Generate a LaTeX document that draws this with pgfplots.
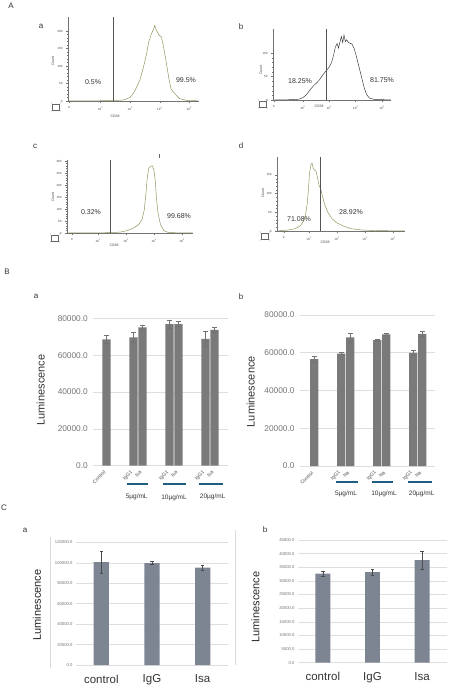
\documentclass[border=0pt]{standalone}
\usepackage{fontspec}
\setmainfont{Liberation Sans}
\usepackage{pgfplots}
\pgfplotsset{compat=1.18}
\definecolor{facsgreen}{RGB}{128,146,82}
\definecolor{gatec}{RGB}{85,85,85}
\definecolor{barB}{RGB}{122,122,122}
\definecolor{barC}{RGB}{125,133,146}
\definecolor{blueL}{RGB}{31,94,128}
\definecolor{gridc}{RGB}{222,222,222}
\def\mxt{2.301,2.477,2.602,2.699,2.778,2.845,2.903,2.954,3.301,3.477,3.602,3.699,3.778,3.845,3.903,3.954,4.301,4.477,4.602,4.699,4.778,4.845,4.903,4.954,5.301}
\pgfplotsset{
  facs/.style={
    scale only axis, anchor=south west, axis lines*=left,
    axis line style={black!55, line width=0.4pt},
    tick style={black!55, line width=0.3pt},
    major tick length=1.6pt, minor tick length=0.9pt,
    tick align=outside,
    ticklabel style={font=\fontsize{3}{3.5}\selectfont, text=black!75},
    minor xtick=\mxt, minor y tick num=4,
    ymin=0, scaled ticks=false,
    /pgf/number format/assume math mode=true,
    xticklabel style={yshift=-0.5pt},
    yticklabel style={xshift=-0.3pt},
  },
  barsB/.style={
    scale only axis, anchor=south west, ybar, bar width=0.93,
    ymin=0, ymax=80000, scaled y ticks=false,
    ytick={0,20000,40000,60000,80000},
    yticklabels={0.0,20000.0,40000.0,60000.0,80000.0},
    ymajorgrids, grid style={gridc, line width=0.6pt},
    axis line style={draw=none}, tick style={draw=none},
    yticklabel style={font=\fontsize{8.3}{9}\selectfont, text=black!55, xshift=-2pt},
    xtick={0,3,4,7,8,11,12},
    xticklabels={Control,IgG1,Isa,IgG1,Isa,IgG1,Isa},
    xticklabel style={font=\fontsize{5}{6}\selectfont, rotate=45, anchor=east, text=black!70, xshift=1pt},
    clip=false,
  },
  barsC/.style={
    scale only axis, anchor=south west, ybar, bar width=0.3,
    ymin=0, scaled y ticks=false, xmin=-0.5, xmax=2.5,
    ymajorgrids, grid style={gridc, line width=0.5pt},
    axis line style={draw=none}, tick style={draw=none},
    yticklabel style={font=\fontsize{4.2}{5}\selectfont, text=black!55},
    xtick={0,1,2}, xticklabels={control,IgG,Isa},
    xticklabel style={font=\fontsize{11.5}{13}\selectfont, text=black!80, yshift=-2pt},
    clip=false,
  },
  facsline/.style={no marks, line width=0.45pt, facsgreen},
  gateline/.style={no marks, line width=0.6pt, gatec},
}
\newcommand{\pct}{\fontsize{7}{8}\selectfont}
\newcommand{\tinyf}{\fontsize{3.5}{4}\selectfont}
\newcommand{\icon}[2]{\draw[black!60, line width=0.4pt] (#1pt-3.5pt,-#2pt-3pt) rectangle (#1pt+3.5pt,-#2pt+3pt);
  \foreach \dx/\dy in {-1/-1,-1/1,1/-1,1/1}{\fill[black!60] (#1pt+\dx*4.5pt,-#2pt+\dy*4pt) circle (0.35pt);}}
\begin{document}
\begin{tikzpicture}
\path[use as bounding box] (0,0) rectangle (456pt,-685pt);

% ---------------- Panel A ----------------
\node[font=\fontsize{8}{9}\selectfont, text=black!80] at (11pt,-6pt) {A};
\node[font=\fontsize{8}{9}\selectfont, text=black!80] at (41pt,-26pt) {a};
\node[font=\fontsize{8}{9}\selectfont, text=black!80] at (241pt,-27pt) {b};
\node[font=\fontsize{8}{9}\selectfont, text=black!80] at (35pt,-146pt) {c};
\node[font=\fontsize{8}{9}\selectfont, text=black!80] at (241pt,-146pt) {d};

% A.a
\begin{axis}[facs, at={(68pt,-101pt)}, width=131pt, height=84pt,
  xmin=0.9, xmax=5.33, ymax=240,
  xtick={0.93,2,3,4,5}, xticklabels={0,10\textsuperscript{2},10\textsuperscript{3},10\textsuperscript{4},10\textsuperscript{5}},
  ytick={0,50,100,150,200}]
\addplot[facsline] coordinates {(0.93,0.5)(1.5,0.5)(2.0,0.8)(2.44,1)(2.78,3)(3.0,10)(3.11,22)(3.22,39)(3.33,60)(3.44,93)(3.56,136)(3.63,169)(3.72,192)(3.80,206)(3.83,216)(3.89,202)(3.98,188)(4.06,183)(4.13,155)(4.22,112)(4.31,65)(4.39,33)(4.50,22)(4.67,7)(4.89,2)(5.31,0.5)};
\addplot[gateline] coordinates {(2.43,0)(2.43,240)};
\end{axis}
\node[font=\pct, text=black!80] at (93pt,-82pt) {0.5\%};
\node[font=\pct, text=black!80] at (186pt,-80pt) {99.5\%};
\node[font=\tinyf, rotate=90, text=black!75] at (53pt,-61pt) {Count};
\node[font=\tinyf, text=black!75] at (115pt,-116pt) {CD38};
\icon{56}{107}

% A.b
\begin{axis}[facs, at={(273pt,-100pt)}, width=118pt, height=71pt,
  xmin=0.87, xmax=5.34, ymax=152,
  xtick={0.9,2,3,4,5}, xticklabels={0,10\textsuperscript{2},10\textsuperscript{3},10\textsuperscript{4},10\textsuperscript{5}},
  ytick={0,50,100}]
\addplot[no marks, line width=0.45pt, black!80] coordinates {(0.92,0.3)(1.68,0.7)(1.87,2)(2.0,5)(2.13,11)(2.25,20)(2.38,29)(2.51,36)(2.63,43)(2.76,54)(2.89,63)(3.01,71)(3.10,82)(3.18,100)(3.23,113)(3.30,121)(3.35,111)(3.41,125)(3.46,136)(3.51,123)(3.56,139)(3.61,125)(3.66,129)(3.73,123)(3.86,120)(3.94,111)(4.03,93)(4.11,75)(4.22,50)(4.32,27)(4.42,11)(4.53,4)(4.72,1)(5.33,0.3)};
\addplot[gateline] coordinates {(2.89,0)(2.89,152)};
\end{axis}
\node[font=\pct, text=black!80] at (300pt,-81pt) {18.25\%};
\node[font=\pct, text=black!80] at (382pt,-80pt) {81.75\%};
\node[font=\tinyf, rotate=90, text=black!75] at (261pt,-70pt) {Count};
\node[font=\tinyf, text=black!75] at (319pt,-106pt) {CD38};
\icon{263}{104}

% A.c
\begin{axis}[facs, at={(67pt,-233pt)}, width=126pt, height=73pt,
  xmin=0.89, xmax=5.39, ymax=305,
  xtick={1.07,2,3,4,5}, xticklabels={0,10\textsuperscript{2},10\textsuperscript{3},10\textsuperscript{4},10\textsuperscript{5}},
  ytick={0,50,100,150,200,250,300}]
\addplot[facsline] coordinates {(0.89,0.5)(1.5,0.5)(2.0,0.8)(2.44,1.4)(2.80,4)(3.04,10)(3.27,21)(3.45,35)(3.57,56)(3.65,97)(3.71,167)(3.76,236)(3.81,271)(3.87,278)(3.94,281)(3.99,264)(4.04,222)(4.08,153)(4.14,83)(4.23,35)(4.35,10)(4.52,1.4)(5.38,0.5)};
\addplot[gateline] coordinates {(2.42,0)(2.42,305)};
\end{axis}
\node[font=\pct, text=black!80] at (91pt,-212pt) {0.32\%};
\node[font=\pct, text=black!80] at (179pt,-216pt) {99.68\%};
\node[font=\tinyf, rotate=90, text=black!75] at (53pt,-197pt) {Count};
\node[font=\tinyf, text=black!75] at (114pt,-245pt) {CD38};
\draw[black!60, line width=0.4pt] (159pt,-154pt) -- (159pt,-158pt);
\icon{55}{238}

% A.d
\begin{axis}[facs, at={(277pt,-231pt)}, width=128pt, height=74pt,
  xmin=0.86, xmax=5.43, ymax=198,
  xtick={1.1,2,3,4,5}, xticklabels={0,10\textsuperscript{2},10\textsuperscript{3},10\textsuperscript{4},10\textsuperscript{5}},
  ytick={0,50,100,150}]
\addplot[facsline] coordinates {(0.88,0.3)(1.26,2.7)(1.50,6)(1.68,13)(1.80,25)(1.88,43)(1.94,74)(1.99,119)(2.02,154)(2.07,177)(2.11,182)(2.15,168)(2.20,163)(2.25,161)(2.31,141)(2.36,122)(2.42,113)(2.49,91)(2.57,69)(2.67,51)(2.81,34)(2.99,22)(3.23,13)(3.52,6)(3.88,2.7)(4.48,1)(5.42,0.3)};
\addplot[gateline] coordinates {(2.42,0)(2.42,198)};
\end{axis}
\node[font=\pct, text=black!80] at (299pt,-219pt) {71.08\%};
\node[font=\pct, text=black!80] at (351pt,-212pt) {28.92\%};
\node[font=\tinyf, rotate=90, text=black!75] at (263pt,-193pt) {Count};
\node[font=\tinyf, text=black!75] at (325pt,-242pt) {CD38};
\icon{265}{236}

% ---------------- Panel B ----------------
\node[font=\fontsize{8}{9}\selectfont, text=black!80] at (7pt,-272pt) {B};
\node[font=\fontsize{8}{9}\selectfont, text=black!80] at (36pt,-296pt) {a};
\node[font=\fontsize{8}{9}\selectfont, text=black!80] at (241pt,-297pt) {b};

\begin{axis}[barsB, at={(93.3pt,-465.7pt)}, width=134.4pt, height=147.4pt,
  xmin=-1.47, xmax=13.47]
\addplot[fill=barB, draw=none,
  error bars/.cd, y dir=both, y explicit,
  error bar style={black!55, line width=0.6pt},
  error mark options={rotate=90, mark size=2.4pt, black!55, line width=0.6pt}]
  table[x=x, y=y, y error=e] {
x y e
0 68500 2300
3 69700 2700
4 75100 1100
7 76900 2200
8 76900 1300
11 68800 4100
12 73700 1400
};
\end{axis}
\node[rotate=90, font=\fontsize{11}{12}\selectfont, text=black!80] at (40.7pt,-390pt) {Luminescence};
\foreach \a/\b in {126.7/148.3,163.3/186,199.3/222.7}{\draw[blueL, line width=1.8pt] (\a pt,-484pt) -- (\b pt,-484pt);}
\node[font=\fontsize{6.5}{7}\selectfont, text=black!80] at (136.7pt,-496.7pt) {5µg/mL};
\node[font=\fontsize{6.5}{7}\selectfont, text=black!80] at (174pt,-497.5pt) {10µg/mL};
\node[font=\fontsize{6.5}{7}\selectfont, text=black!80] at (212.7pt,-496.7pt) {20µg/mL};

\begin{axis}[barsB, at={(300pt,-466pt)}, width=135pt, height=151pt,
  xmin=-1.58, xmax=13.42]
\addplot[fill=barB, draw=none,
  error bars/.cd, y dir=both, y explicit,
  error bar style={black!55, line width=0.6pt},
  error mark options={rotate=90, mark size=2.4pt, black!55, line width=0.6pt}]
  table[x=x, y=y, y error=e] {
x y e
0 56600 1700
3 59600 400
4 68100 2300
7 66700 400
8 69700 700
11 59900 1400
12 70000 1200
};
\end{axis}
\node[rotate=90, font=\fontsize{11}{12}\selectfont, text=black!80] at (250.7pt,-391.7pt) {Luminescence};
\foreach \a/\b in {335.7/358.3,371.7/393.3,408.3/431.7}{\draw[blueL, line width=1.8pt] (\a pt,-481.7pt) -- (\b pt,-481.7pt);}
\node[font=\fontsize{6.5}{7}\selectfont, text=black!80] at (346pt,-494pt) {5µg/mL};
\node[font=\fontsize{6.5}{7}\selectfont, text=black!80] at (384pt,-494pt) {10µg/mL};
\node[font=\fontsize{6.5}{7}\selectfont, text=black!80] at (421.7pt,-494pt) {20µg/mL};

% ---------------- Panel C ----------------
\node[font=\fontsize{8}{9}\selectfont, text=black!80] at (4pt,-508pt) {C};
\node[font=\fontsize{8}{9}\selectfont, text=black!80] at (25pt,-530pt) {a};
\node[font=\fontsize{8}{9}\selectfont, text=black!80] at (265pt,-530pt) {b};
\draw[black!15, line width=0.5pt] (50pt,-537pt) -- (50pt,-668pt);
\draw[black!15, line width=0.5pt] (235pt,-530pt) -- (235pt,-665pt);

\begin{axis}[barsC, at={(76pt,-665pt)}, width=152pt, height=122.7pt,
  ymax=120000, ytick={0,20000,40000,60000,80000,100000,120000},
  yticklabels={0.0,20000.0,40000.0,60000.0,80000.0,100000.0,120000.0}]
\addplot[fill=barC, draw=none,
  error bars/.cd, y dir=both, y explicit,
  error bar style={black!70, line width=0.45pt},
  error mark options={rotate=90, mark size=1.8pt, black!70, line width=0.45pt}]
  table[x=x, y=y, y error=e] {
x y e
0 100600 10800
1 99700 1500
2 95300 2400
};
\end{axis}
\node[rotate=90, font=\fontsize{11}{12}\selectfont, text=black!85] at (37pt,-605pt) {Luminescence};

\begin{axis}[barsC, at={(298pt,-662.7pt)}, width=149pt, height=122.7pt,
  ymax=45000, ytick={0,5000,10000,15000,20000,25000,30000,35000,40000,45000},
  yticklabels={0.0,5000.0,10000.0,15000.0,20000.0,25000.0,30000.0,35000.0,40000.0,45000.0}]
\addplot[fill=barC, draw=none,
  error bars/.cd, y dir=both, y explicit,
  error bar style={black!70, line width=0.45pt},
  error mark options={rotate=90, mark size=1.8pt, black!70, line width=0.45pt}]
  table[x=x, y=y, y error=e] {
x y e
0 32700 1000
1 33200 1100
2 37600 3400
};
\end{axis}
\node[rotate=90, font=\fontsize{11}{12}\selectfont, text=black!85] at (255.5pt,-607pt) {Luminescence};
\end{tikzpicture}
\end{document}
